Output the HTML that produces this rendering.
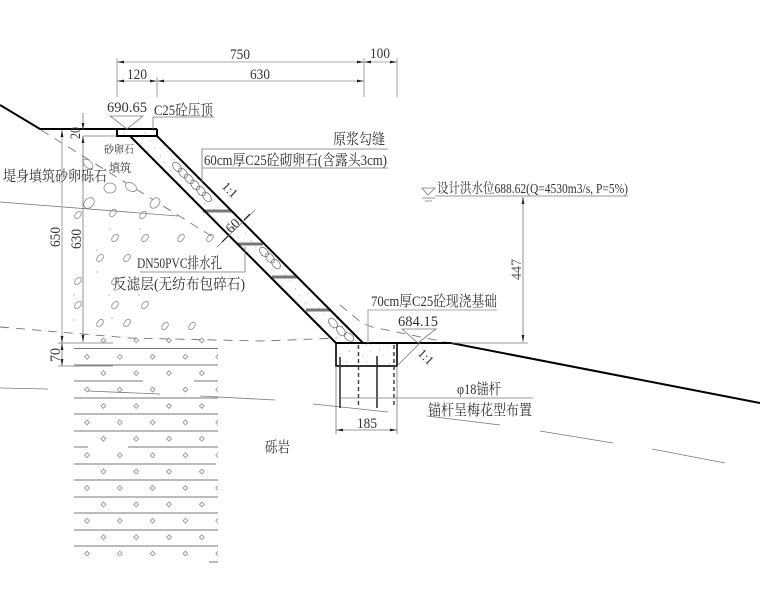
<!DOCTYPE html>
<html><head><meta charset="utf-8"><style>
html,body{margin:0;padding:0;background:#fff}
svg{display:block}
text{font-family:"Liberation Serif","Noto Serif CJK SC",serif;fill:#333;font-size:15px}
.t{stroke:#777;stroke-width:.8;fill:none}
.g{stroke:#aaa;stroke-width:1.1;fill:none}
.k{stroke:#000;stroke-width:2;fill:none}
.d{stroke:#777;stroke-width:.9;fill:none;stroke-dasharray:9 7}
.o{stroke:#888;stroke-width:.8;fill:#fff}
.h{stroke:#777;stroke-width:1;fill:none}
.p{stroke:#777;stroke-width:3;fill:none}
</style></head><body>
<svg width="760" height="608" viewBox="0 0 760 608" xmlns="http://www.w3.org/2000/svg">
<defs>
<marker id="a" markerWidth="8" markerHeight="4" refX="7" refY="2" orient="auto-start-reverse" markerUnits="userSpaceOnUse"><path d="M0 .6L7 2L0 3.4Z" fill="#222"/></marker>
<pattern id="dm" width="32.8" height="32.8" patternUnits="userSpaceOnUse" x="87" y="340.400">
<path d="M16.4 -2.4l2.4 2.4l-2.4 2.4l-2.4-2.4Z M16.4 30.4l2.4 2.4l-2.4 2.4l-2.4-2.4Z M0 14l2.4 2.4l-2.4 2.4l-2.4-2.4Z M32.8 14l2.4 2.4l-2.4 2.4l-2.4-2.4Z" fill="none" stroke="#888" stroke-width=".8"/>
</pattern>
<pattern id="sp" width="14" height="11" patternUnits="userSpaceOnUse" patternTransform="rotate(17)">
<circle cx="3" cy="3" r=".5" fill="#888"/><circle cx="9" cy="8" r=".45" fill="#999"/>
</pattern>
<ellipse id="c" rx="4.2" ry="2.6" transform="rotate(-50)" fill="none" stroke="#888" stroke-width=".8"/>
</defs>

<!-- rock hatch -->
<rect x="74" y="336" width="144" height="220" fill="url(#dm)"/>
<path class="h" d="M74 348.500H218M74 365H218M74 381H143M194 381H218M74 398H218M74 414H218M74 431H218M74 447H88M128 447H218M74 464H216M74 480H218M74 497H218M74 513H218M74 530H218M74 546H218M209 562H218"/>

<!-- terrain thin lines -->
<path class="t" d="M0 202L178 216M0 388L48 389M88 391L160 394M200 396L275 400M313 404L388 412M427 416L500 425M540 431L613 443M652 449L725 463"/>
<path class="d" d="M0 327L130 338L260 341L290 340L337 338"/>
<path class="d" d="M41 130L213 237M340 305L362 323L372 327L450 343"/>

<!-- fill cobbles -->
<g class="o">
<ellipse cx="88" cy="164" rx="6" ry="3.5" transform="rotate(45 88 164)"/>
<ellipse cx="110" cy="188" rx="6" ry="5"/>
<ellipse cx="131" cy="187" rx="6" ry="4" transform="rotate(30 131 187)"/>
<ellipse cx="155" cy="203" rx="6" ry="4" transform="rotate(-50 155 203)"/>
<ellipse cx="89" cy="203" rx="6" ry="4.5" transform="rotate(-45 89 203)"/>
</g>
<use href="#c" x="78" y="215"/><use href="#c" x="113" y="213"/><use href="#c" x="143" y="215"/>
<use href="#c" x="115" y="238"/><use href="#c" x="145" y="238"/><use href="#c" x="181" y="238"/><use href="#c" x="210" y="238"/>
<use href="#c" x="100" y="258"/><use href="#c" x="127" y="258"/>
<use href="#c" x="78" y="281"/><use href="#c" x="115" y="281"/>
<use href="#c" x="78" y="305"/><use href="#c" x="115" y="305"/><use href="#c" x="145" y="305"/>
<use href="#c" x="100" y="323"/><use href="#c" x="127" y="323"/><use href="#c" x="165" y="326"/><use href="#c" x="192" y="326"/>
<g fill="#888"><circle cx="110" cy="229" r=".6"/><circle cx="140" cy="229" r=".6"/><circle cx="97" cy="250" r=".6"/><circle cx="74" cy="295" r=".6"/><circle cx="109" cy="295" r=".6"/><circle cx="139" cy="295" r=".6"/><circle cx="97" cy="272" r=".6"/><circle cx="74" cy="320" r=".6"/><circle cx="112" cy="318" r=".6"/></g>

<!-- wall -->
<path d="M130 136L157 136L363 343L336 343Z" fill="url(#sp)"/>
<rect x="337" y="344" width="60" height="22" fill="url(#sp)"/>
<rect x="118" y="130" width="39" height="6" fill="url(#sp)"/>
<g fill="none" stroke="#777" stroke-width=".8">
<ellipse cx="177" cy="167" rx="5.5" ry="3.5" transform="rotate(50 177 167)"/>
<ellipse cx="183" cy="173" rx="5.5" ry="3.5" transform="rotate(50 183 173)"/>
<ellipse cx="189" cy="179" rx="5.500" ry="3.5" transform="rotate(50 189 179)"/>
<ellipse cx="195" cy="185" rx="5.5" ry="3.5" transform="rotate(50 195 185)"/>
<ellipse cx="201" cy="191" rx="5.5" ry="3.5" transform="rotate(50 201 191)"/>
<ellipse cx="207" cy="197" rx="5.5" ry="3.5" transform="rotate(50 207 197)"/>
<ellipse cx="264" cy="252" rx="5.5" ry="3.5" transform="rotate(50 264 252)"/>
<ellipse cx="270" cy="258" rx="5.5" ry="3.5" transform="rotate(50 270 258)"/>
<ellipse cx="276" cy="264" rx="5.5" ry="3.5" transform="rotate(50 276 264)"/>
<ellipse cx="333" cy="323" rx="5.5" ry="3.5" transform="rotate(50 333 323)"/>
<ellipse cx="341" cy="331" rx="5.5" ry="3.5" transform="rotate(50 341 331)"/>
<ellipse cx="349" cy="337" rx="5.5" ry="3.5" transform="rotate(40 349 337)"/>
</g>
<path class="p" d="M203 211H232M238 244H263M272 277H297M306 310H331"/>
<path class="k" d="M0 105L40 129H157M117 129V136H157V129M130 136L336 343M157 136L363 343M336 343H451L760 403"/>
<rect x="336" y="343" width="61" height="23" fill="none" stroke="#000" stroke-width="1.6"/>
<path d="M340 357V408M377 356V408" stroke="#333" stroke-width="1.6" fill="none"/>
<path d="M358.500 345V408M394 345V408" stroke="#444" stroke-width="1.5" stroke-dasharray="4 3" fill="none"/>

<!-- top dims -->
<path class="g" d="M117 58V97M157 77V97M364 58V97M397 58V97"/>
<path class="g" d="M117 62H364" marker-start="url(#a)" marker-end="url(#a)"/>
<path class="g" d="M364 62H397" marker-start="url(#a)" marker-end="url(#a)"/>
<path class="g" d="M117 81H157" marker-start="url(#a)" marker-end="url(#a)"/>
<path class="g" d="M157 81H364" marker-start="url(#a)" marker-end="url(#a)"/>
<text x="230" y="59" textLength="20" lengthAdjust="spacingAndGlyphs">750</text>
<text x="127" y="79" textLength="20" lengthAdjust="spacingAndGlyphs">120</text>
<text x="250" y="79" textLength="20" lengthAdjust="spacingAndGlyphs">630</text>
<text x="370" y="58" textLength="20" lengthAdjust="spacingAndGlyphs">100</text>

<!-- elevation top -->
<path class="t" d="M110 116H143L127 129Z"/>
<text x="107" y="112" textLength="40" lengthAdjust="spacingAndGlyphs">690.65</text>
<path class="t" d="M153 129V117H214"/>
<text x="154" y="115" textLength="59" lengthAdjust="spacingAndGlyphs">C25砼压顶</text>

<!-- left dims -->
<path class="t" d="M83 113V130" marker-end="url(#a)"/>
<path class="t" d="M83 136V342" marker-start="url(#a)" marker-end="url(#a)"/>
<path class="t" d="M83 136H117"/>
<path class="g" d="M62 130V343" marker-start="url(#a)" marker-end="url(#a)"/>
<path class="t" d="M62 343V366" marker-start="url(#a)" marker-end="url(#a)"/>
<path class="t" d="M58 343H113M58 366H113"/>
<text transform="translate(80,139) rotate(-90)" textLength="12" lengthAdjust="spacingAndGlyphs">20</text>
<text transform="translate(60,247) rotate(-90)" textLength="20" lengthAdjust="spacingAndGlyphs">650</text>
<text transform="translate(81,249) rotate(-90)" textLength="20" lengthAdjust="spacingAndGlyphs">630</text>
<text transform="translate(60,362) rotate(-90)" textLength="14" lengthAdjust="spacingAndGlyphs">70</text>

<text x="104" y="153" style="font-size:11px" textLength="30" lengthAdjust="spacingAndGlyphs">砂卵石</text>
<text x="109" y="172" style="font-size:12px" textLength="22" lengthAdjust="spacingAndGlyphs">填筑</text>
<text x="3" y="181" textLength="104" lengthAdjust="spacingAndGlyphs">堤身填筑砂卵砾石</text>

<!-- labels on wall -->
<text x="333" y="144" textLength="52" lengthAdjust="spacingAndGlyphs">原浆勾缝</text>
<path class="t" d="M202 182V149H388M202 168H388"/>
<text x="204" y="165" textLength="183" lengthAdjust="spacingAndGlyphs">60cm厚C25砼砌卵石(含露头3cm)</text>
<text transform="translate(221,187) rotate(45)" style="font-size:13px">1:1</text>
<path class="t" d="M217 247L255 210"/>
<path d="M228 236L222 242M244 220L250 214" stroke="#222" stroke-width="1.2"/>
<text transform="translate(231,234) rotate(-45)" style="font-size:14px" textLength="14" lengthAdjust="spacingAndGlyphs">60</text>

<path class="t" d="M140 272H245V247"/>
<text x="137" y="268" textLength="85" lengthAdjust="spacingAndGlyphs">DN50PVC排水孔</text>
<text x="113" y="289" textLength="132" lengthAdjust="spacingAndGlyphs">反滤层(无纺布包碎石)</text>

<!-- water -->
<path class="t" d="M422 188H435L428 195ZM435 196H628M422 198H435M425 201H432"/>
<text x="437" y="193" style="font-size:14px" textLength="191" lengthAdjust="spacingAndGlyphs">设计洪水位688.62(Q=4530m3/s, P=5%)</text>
<path class="t" d="M523 197V342" marker-start="url(#a)" marker-end="url(#a)"/>
<path class="t" d="M451 343H528"/>
<text transform="translate(521,280) rotate(-90)" textLength="21" lengthAdjust="spacingAndGlyphs" fill-opacity=".8">447</text>

<!-- foundation labels -->
<path class="g" d="M368 343V310H497"/>
<text x="371" y="306" textLength="126" lengthAdjust="spacingAndGlyphs">70cm厚C25砼现浇基础</text>
<path class="t" d="M402 329H436L418 343Z"/>
<text x="398" y="326" textLength="40" lengthAdjust="spacingAndGlyphs">684.15</text>
<path class="t" d="M397 366L420 343"/>
<text transform="translate(417,354) rotate(45)" style="font-size:13px">1:1</text>
<path class="t" d="M340 398H533"/>
<text x="457" y="394" textLength="44" lengthAdjust="spacingAndGlyphs">φ18锚杆</text>
<text x="428" y="415" textLength="104" lengthAdjust="spacingAndGlyphs">锚杆呈梅花型布置</text>
<path class="t" d="M336 366V434M397 366V434"/>
<path class="t" d="M336 430H397" marker-start="url(#a)" marker-end="url(#a)"/>
<text x="357" y="428" textLength="20" lengthAdjust="spacingAndGlyphs">185</text>
<text x="265" y="452" textLength="25" lengthAdjust="spacingAndGlyphs">砾岩</text>
</svg>
</body></html>
